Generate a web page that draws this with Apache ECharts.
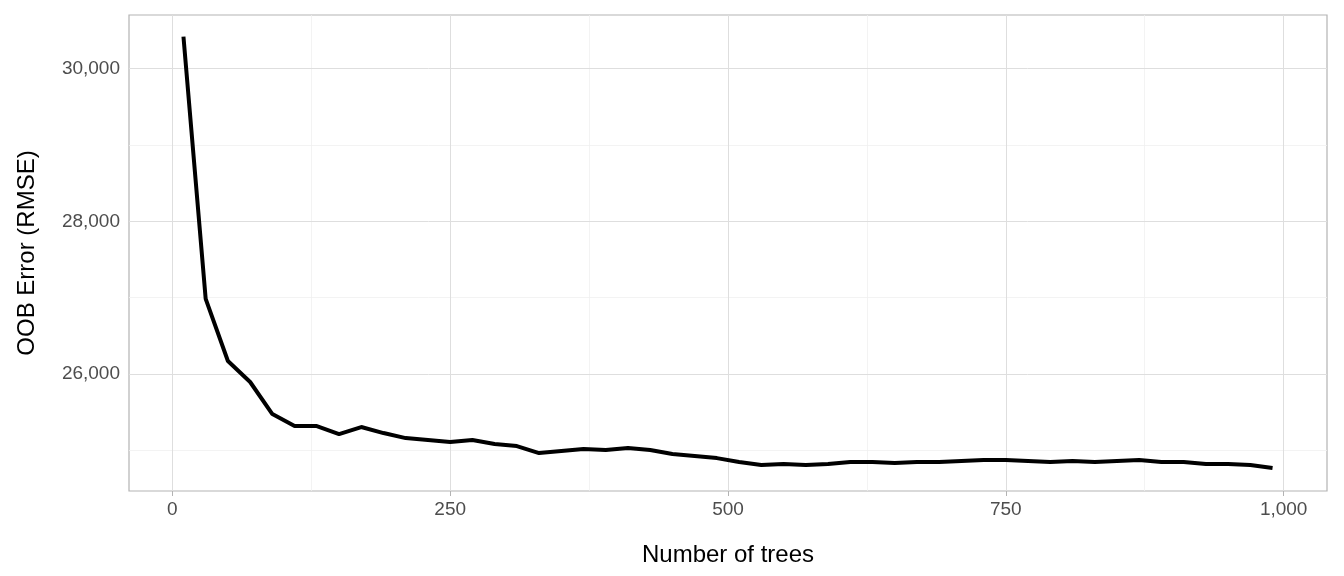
<!DOCTYPE html><html><head><meta charset="utf-8"><script src="https://cdn.jsdelivr.net/npm/echarts@6/dist/echarts.min.js"></script></head><body style="margin:0"><div id="c" style="width:1344px;height:576px"></div><script>
const trees=[10,30,50,70,90,110,130,150,170,190,210,230,250,270,290,310,330,350,370,390,410,430,450,470,490,510,530,550,570,590,610,630,650,670,690,710,730,750,770,790,810,830,850,870,890,910,930,950,970,990];
const oob=[30420,26984,26170,25895,25475,25318,25318,25213,25305,25226,25160,25134,25108,25134,25082,25056,24964,24990,25016,25003,25029,25003,24951,24925,24898,24846,24807,24820,24807,24820,24846,24846,24833,24846,24846,24859,24872,24872,24859,24846,24859,24846,24859,24872,24846,24846,24820,24820,24807,24767];
const xMajor=[0,250,500,750,1000], xMinor=[125,375,625,875];
const yMajor=[26000,28000,30000], yMinor=[25000,27000,29000];
const ml=(arr,key,w,col)=>arr.map(v=>({[key]:v,lineStyle:{width:w,color:col,type:'solid'}}));
const ch=echarts.init(document.getElementById('c'));
ch.setOption({animation:false,
grid:{left:129,right:17,top:15,bottom:85,show:true,borderColor:'#b3b3b3',borderWidth:1.2},
xAxis:{type:'value',min:-39,max:1039,axisLine:{show:false},splitLine:{show:false},
 axisTick:{customValues:xMajor,length:5,lineStyle:{color:'#b3b3b3'}},
 axisLabel:{customValues:xMajor,color:'#4d4d4d',fontSize:19,fontFamily:'Liberation Sans, Arial',margin:9},
 name:'Number of trees',nameLocation:'middle',nameGap:52,nameTextStyle:{fontSize:24,color:'#000',fontFamily:'Liberation Sans, Arial'}},
yAxis:{type:'value',min:24467,max:30703,axisLine:{show:false},splitLine:{show:false},
 axisTick:{show:true,customValues:yMajor,length:5,lineStyle:{color:'#b3b3b3'}},
 axisLabel:{customValues:yMajor,color:'#4d4d4d',fontSize:19,fontFamily:'Liberation Sans, Arial',margin:9},
 name:'OOB Error (RMSE)',nameLocation:'middle',nameGap:90,nameTextStyle:{fontSize:24,color:'#000',fontFamily:'Liberation Sans, Arial'}},
series:[
{type:'line',data:[],z:1,silent:true,markLine:{silent:true,symbol:'none',label:{show:false},animation:false,
 data:[...ml(xMinor,'xAxis',0.8,'#f0f0f0'),...ml(yMinor,'yAxis',0.8,'#f0f0f0'),...ml(xMajor,'xAxis',1,'#dedede'),...ml(yMajor,'yAxis',1,'#dedede')]}},
{type:'line',z:5,data:trees.map((t,i)=>[t,oob[i]]),showSymbol:false,lineStyle:{color:'#000',width:4}}
]});
</script></body></html>
